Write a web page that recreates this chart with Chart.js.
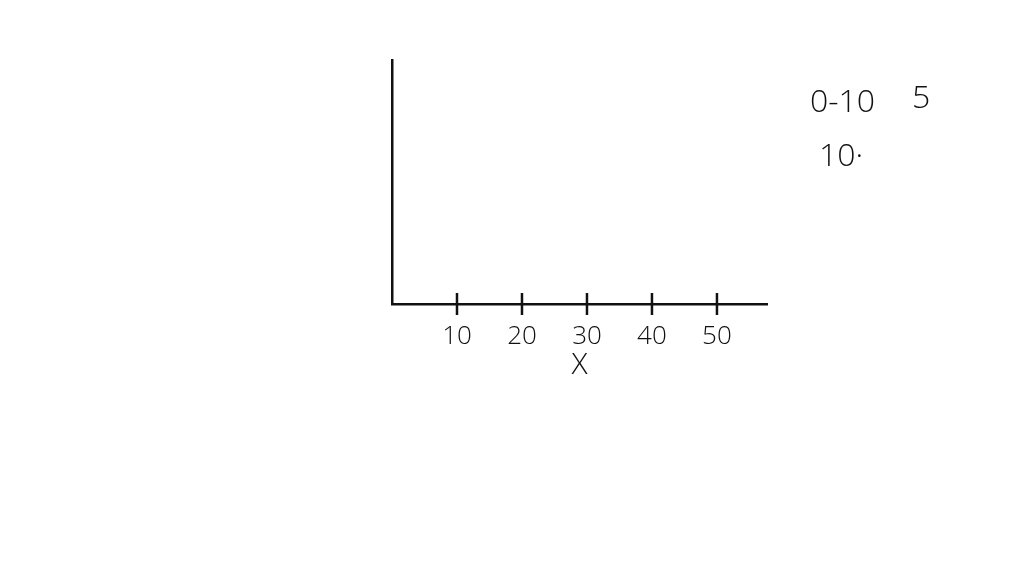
<!DOCTYPE html>
<html>
<head>
<meta charset="utf-8">
<script src="https://cdn.jsdelivr.net/npm/chart.js@4"></script>
<style>
html,body{margin:0;padding:0;background:#fff;}
#wrap{position:relative;width:1024px;height:576px;}
canvas{position:absolute;left:0;top:0;}
.note{position:absolute;font-family:'Open Sans',sans-serif;font-weight:300;font-size:32px;color:#111;line-height:1;white-space:pre;}
</style>
</head>
<body>
<div id="wrap">
<canvas id="c" width="1024" height="576"></canvas>
<div class="note" id="n1" style="left:810px;top:84px;"></div>
<div class="note" id="n2" style="left:912px;top:80px;"></div>
<div class="note" id="n3" style="left:819px;top:138px;"></div>
</div>
<script>
// Data
const xTicks = [10, 20, 30, 40, 50];
const xAxisTitle = 'X';
const xMin = 0;
const xMax = 57.7;
const noteClass = ['0-10', '10·'];
const noteFreq = ['5', ''];

document.getElementById('n1').textContent = noteClass[0];
document.getElementById('n2').textContent = noteFreq[0];
document.getElementById('n3').textContent = noteClass[1];

const crossTicks = {
  id: 'crossTicks',
  afterDraw(chart) {
    const xs = chart.scales.x;
    const ctx = chart.ctx;
    const y = xs.top;
    ctx.save();
    ctx.strokeStyle = '#111';
    ctx.lineWidth = 2.5;
    xTicks.forEach(v => {
      const px = xs.getPixelForValue(v);
      ctx.beginPath();
      ctx.moveTo(px, y - 11);
      ctx.lineTo(px, y + 11);
      ctx.stroke();
    });
    ctx.restore();
  }
};

new Chart(document.getElementById('c'), {
  type: 'scatter',
  data: { datasets: [{ data: [] }] },
  options: {
    responsive: false,
    animation: false,
    devicePixelRatio: 1,
    layout: { padding: { left: 392, right: 257, top: 60, bottom: 191 } },
    plugins: { legend: { display: false }, tooltip: { enabled: false } },
    scales: {
      x: {
        type: 'linear',
        min: xMin, max: xMax,
        afterBuildTicks(scale) { scale.ticks = xTicks.map(v => ({ value: v })); },
        afterFit(scale) { scale.height = 81; },
        grid: { display: true, drawOnChartArea: false, drawTicks: false },
        border: { display: true, color: '#111', width: 2.5 },
        ticks: {
          padding: 17,
          color: '#111',
          font: { family: "'Open Sans', sans-serif", size: 26, weight: '300' },
          maxRotation: 0
        },
        title: {
          display: true, text: xAxisTitle, color: '#111',
          font: { family: "'Open Sans', sans-serif", size: 30, weight: '300' },
          padding: { top: 0, bottom: 2 }
        }
      },
      y: {
        min: 0, max: 1,
        afterFit(scale) { scale.width = 0; },
        grid: { display: true, drawOnChartArea: false, drawTicks: false },
        border: { display: true, color: '#111', width: 2.5 },
        ticks: { display: false }
      }
    }
  },
  plugins: [crossTicks]
});
</script>
</body>
</html>
